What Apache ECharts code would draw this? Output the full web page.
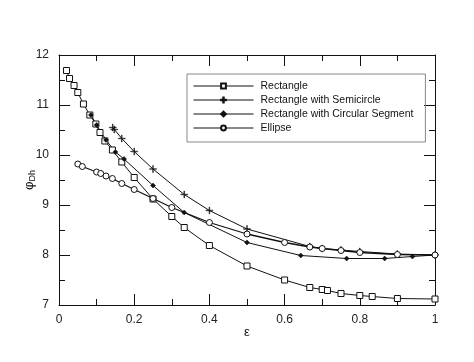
<!DOCTYPE html>
<html><head><meta charset="utf-8">
<script src="https://cdn.jsdelivr.net/npm/echarts@6/dist/echarts.min.js"></script>
<style>html,body{margin:0;padding:0;background:#fff}#c{width:474px;height:362px}</style>
</head><body><div id="c"></div>
<script>
var seriesNames = ['Rectangle', 'Rectangle with Semicircle', 'Rectangle with Circular Segment', 'Ellipse'];
var xRect = [0.02,0.028,0.04,0.05,0.065,0.082,0.098,0.109,0.122,0.142,0.167,0.2,0.25,0.3,0.333,0.4,0.5,0.6,0.667,0.7,0.714,0.75,0.8,0.833,0.9,1.0];
var yRect = [11.69,11.53,11.39,11.25,11.02,10.8,10.62,10.45,10.28,10.1,9.86,9.55,9.12,8.77,8.55,8.19,7.78,7.5,7.35,7.31,7.29,7.23,7.19,7.17,7.13,7.12];
var xSemi = [0.143,0.147,0.167,0.2,0.25,0.333,0.4,0.5,0.667,0.7,0.75,0.8,0.9,1.0];
var ySemi = [10.55,10.51,10.33,10.07,9.72,9.21,8.89,8.52,8.17,8.13,8.1,8.07,8.02,8.0];
var xSeg = [0.085,0.1,0.125,0.15,0.173,0.25,0.333,0.5,0.643,0.765,0.866,0.94,1.0];
var ySeg = [10.8,10.6,10.3,10.06,9.92,9.39,8.85,8.25,7.99,7.93,7.93,7.97,8.0];
var xEll = [0.05,0.062,0.1,0.111,0.125,0.142,0.167,0.2,0.25,0.3,0.4,0.5,0.6,0.667,0.7,0.75,0.8,0.9,1.0];
var yEll = [9.82,9.77,9.66,9.63,9.58,9.53,9.43,9.31,9.13,8.95,8.65,8.42,8.25,8.16,8.13,8.09,8.05,8.01,8.0];

function pairs(xs, ys){ return xs.map(function(x,i){return [x, ys[i]];}); }
var FONT = 'Liberation Sans';
var plus = 'path://M-0.09,-1H0.09V-0.09H1V0.09H0.09V1H-0.09V0.09H-1V-0.09H-0.09Z';

var chart = echarts.init(document.getElementById('c'), null, {renderer:'canvas'});
function axisCommon(show){
  return {
    axisLine:{show:true, onZero:false, lineStyle:{color:'#111', width:1}},
    axisTick:{show:true, inside:true, length:11, lineStyle:{color:'#111', width:1}},
    minorTick:{show:true, splitNumber:2, length:6, lineStyle:{color:'#111', width:1}},
    splitLine:{show:false},
    axisLabel:{show:show, color:'#222', fontFamily:FONT, fontSize:12}
  };
}
var xb = Object.assign(axisCommon(true), {type:'value', min:0, max:1, interval:0.2, position:'bottom',
  name:'ε', nameLocation:'middle', nameGap:21, nameMoveOverlap:false,
  nameTextStyle:{color:'#111', fontFamily:FONT, fontSize:13}});
xb.axisLabel.margin = 9;
var xt = Object.assign(axisCommon(false), {type:'value', min:0, max:1, interval:0.2, position:'top'});
var yl = Object.assign(axisCommon(true), {type:'value', min:7, max:12, interval:1, position:'left',
  name:'{a|φ}{b|Dh}', nameLocation:'middle', nameGap:22, nameRotate:90, nameMoveOverlap:false,
  nameTextStyle:{color:'#111', fontFamily:FONT, fontSize:13,
    rich:{a:{fontFamily:FONT, fontSize:13, color:'#111'}, b:{fontFamily:FONT, fontSize:9, color:'#111', padding:[6,0,0,0]}}}});
yl.axisLabel.margin = 10;
var yr = Object.assign(axisCommon(false), {type:'value', min:7, max:12, interval:1, position:'right'});

function ser(name, data, symbol, size, filled, width){
  return {name:name, type:'line', data:data, symbol:symbol, symbolSize:size, showSymbol:true,
    xAxisIndex:0, yAxisIndex:0, animation:false,
    lineStyle:{color:'#111', width:width},
    itemStyle:{color: filled ? '#111' : '#fff', borderColor:'#111', borderWidth: filled ? 0.5 : 1}};
}
chart.setOption({
  backgroundColor:'#fff',
  animation:false,
  grid:{left:59, right:39, top:55, bottom:57, containLabel:false},
  xAxis:[xb, xt],
  yAxis:[yl, yr],
  legend:{
    show:true, orient:'vertical', left:187, top:74, itemWidth:60, itemHeight:6, itemGap:2,
    borderColor:'#888', borderWidth:1, padding:[6,12,8,6], borderRadius:0,
    lineStyle:{width:1},
    textStyle:{fontFamily:FONT, fontSize:10.5, lineHeight:12, color:'#111', padding:[0,0,0,2]},
    data:seriesNames
  },
  series:[
    ser(seriesNames[0], pairs(xRect,yRect), 'rect', 6, false, 1),
    ser(seriesNames[1], pairs(xSemi,ySemi), plus, 7, true, 1),
    ser(seriesNames[2], pairs(xSeg,ySeg), 'diamond', 5, true, 1),
    ser(seriesNames[3], pairs(xEll,yEll), 'circle', 6, false, 1.3)
  ]
});
</script></body></html>
